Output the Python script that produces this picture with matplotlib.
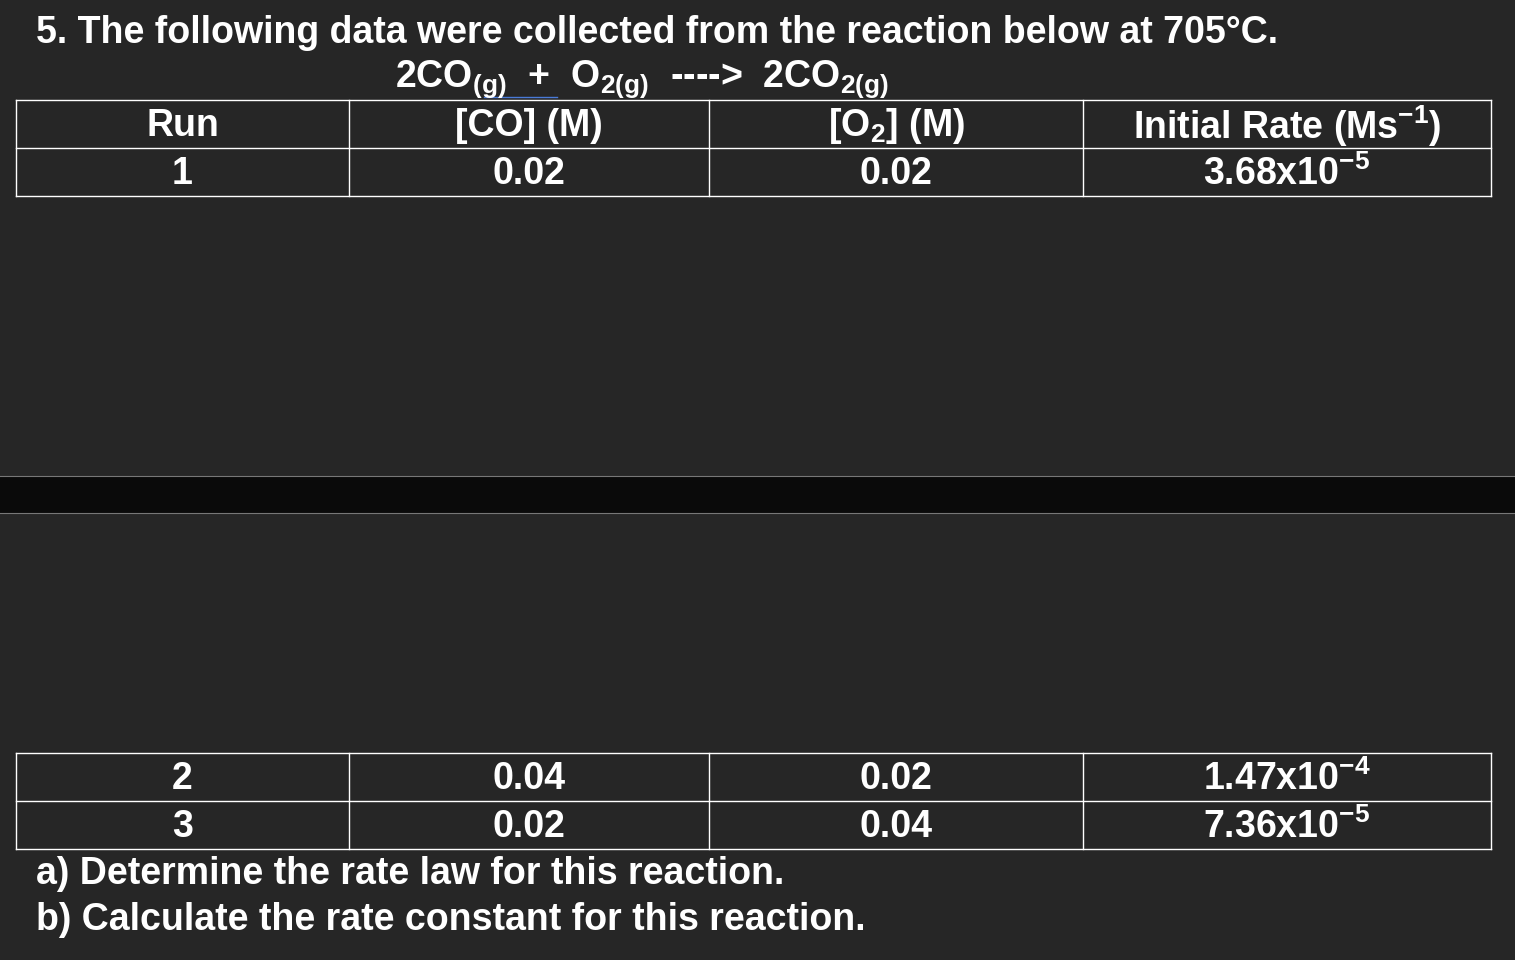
import matplotlib.pyplot as plt

plt.rcParams['font.family'] = ['Liberation Sans', 'DejaVu Sans']
plt.rcParams['font.weight'] = 'bold'
plt.rcParams['mathtext.fontset'] = 'custom'
plt.rcParams['mathtext.rm'] = 'Liberation Sans:bold'
plt.rcParams['mathtext.it'] = 'Liberation Sans:bold'
plt.rcParams['mathtext.bf'] = 'Liberation Sans:bold'
plt.rcParams['mathtext.default'] = 'rm'

headers = ["Run", "[CO] (M)", "[O$_2$] (M)", "Initial Rate (Ms$^{-1}$)"]
runs = ["1", "2", "3"]
co = ["0.02", "0.04", "0.02"]
o2 = ["0.02", "0.02", "0.04"]
rates = ["3.68x10$^{-5}$", "1.47x10$^{-4}$", "7.36x10$^{-5}$"]

W, H = 1515, 960
BG = "#262626"
fig = plt.figure(figsize=(W / 100, H / 100), dpi=100, facecolor=BG)
ax = fig.add_axes([0, 0, 1, 1])
ax.set_xlim(0, W)
ax.set_ylim(H, 0)
ax.axis("off")
ax.set_facecolor(BG)

# dark band between the two slides
ax.fill_between([0, W], 476, 513, color="#0a0a0a", lw=0)
ax.plot([0, W], [476, 476], color="#777777", lw=0.8)
ax.plot([0, W], [513, 513], color="#777777", lw=0.8)

fs = 27
ax.text(36, 33, "5. The following data were collected from the reaction below at 705°C.",
        color="white", fontsize=fs, va="center", ha="left")
ax.text(395, 79, "2CO$_{(g)}$  +  O$_{2(g)}$  ---->  2CO$_{2(g)}$",
        color="white", fontsize=fs, va="center", ha="left")
ax.plot([484, 557], [97, 97], color="#4a7bd8", lw=1)

xs = [16, 349, 709, 1083, 1491]
cols = [(xs[i] + xs[i + 1]) / 2 for i in range(4)]


def draw_table(top, rows):
    n = len(rows)
    for k in range(n + 1):
        y = top + 48 * k
        ax.plot([xs[0], xs[-1]], [y, y], color="white", lw=1)
    for x in xs:
        ax.plot([x, x], [top, top + 48 * n], color="white", lw=1)
    for k, row in enumerate(rows):
        for c, txt in zip(cols, row):
            ax.text(c, top + 48 * k + 26, txt, color="white", fontsize=fs,
                    ha="center", va="center")


draw_table(100, [headers, [runs[0], co[0], o2[0], rates[0]]])
draw_table(753, [[runs[i], co[i], o2[i], rates[i]] for i in (1, 2)])

ax.text(36, 874, "a) Determine the rate law for this reaction.",
        color="white", fontsize=fs, va="center", ha="left")
ax.text(36, 920, "b) Calculate the rate constant for this reaction.",
        color="white", fontsize=fs, va="center", ha="left")

fig.savefig("out.png", dpi=100, facecolor=BG)
